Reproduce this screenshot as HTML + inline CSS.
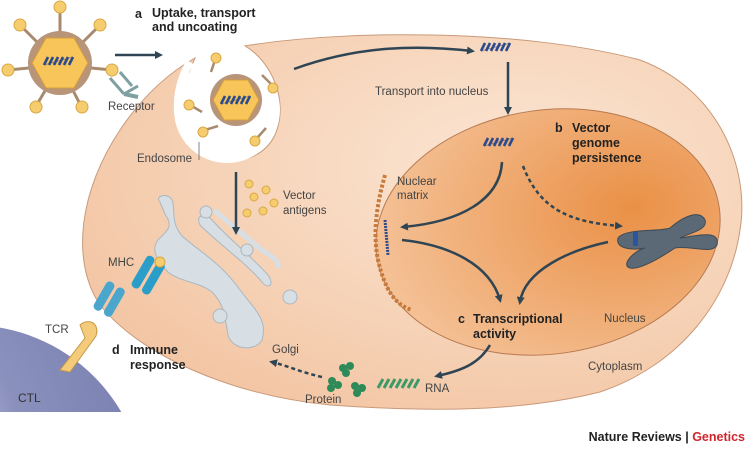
<!DOCTYPE html>
<html><head><meta charset="utf-8"><style>
html,body{margin:0;padding:0;background:#fff;width:750px;height:449px;overflow:hidden}
svg{display:block;overflow:hidden}
text{font-family:"Liberation Sans",sans-serif;fill:#333}
.b{font-weight:bold;font-size:12.5px;fill:#222}
.n{font-size:11.5px;fill:#444}
</style></head><body>
<svg width="750" height="449" viewBox="0 0 750 449" xmlns="http://www.w3.org/2000/svg">
<defs>
<radialGradient id="cell" cx="0.65" cy="0.35" r="0.8">
<stop offset="0" stop-color="#fbe6d4"/><stop offset="1" stop-color="#f2c3a0"/></radialGradient>
<radialGradient id="nuc" cx="0.75" cy="0.45" r="0.75">
<stop offset="0" stop-color="#ea9046"/><stop offset="1" stop-color="#f4c196"/></radialGradient>
<radialGradient id="ctl" cx="0.2" cy="0.35" r="0.8">
<stop offset="0" stop-color="#eef0f7"/><stop offset="0.55" stop-color="#8b91bd"/><stop offset="1" stop-color="#7a80b0"/></radialGradient>
<clipPath id="cl"><rect x="0" y="0" width="750" height="412"/></clipPath>
<marker id="ah" markerWidth="8" markerHeight="8" refX="5" refY="4" orient="auto" markerUnits="userSpaceOnUse"><path d="M0,0 L8,4 L0,8 z" fill="#2f4553"/></marker>
<g id="helix"><path d="M0,8 l4,-8 M5,8 l4,-8 M10,8 l4,-8 M15,8 l4,-8 M20,8 l4,-8 M25,8 l4,-8" fill="none" stroke="#2d4a8a" stroke-width="2.6"/><path d="M0,8 L29,0" stroke="#2d4a8a" stroke-width="0.8" opacity="0.6"/></g>
</defs>

<!-- CTL -->
<circle cx="-30" cy="500" r="175" fill="url(#ctl)" clip-path="url(#cl)"/>

<!-- cell -->
<path d="M245,46 C340,30 520,28 640,60 C720,90 750,170 740,230 C730,300 680,365 600,392 C520,412 430,412 330,405 C230,395 140,355 100,305 C70,260 80,190 120,130 C140,100 165,75 195,58 C185,80 180,100 185,120 C195,165 255,175 275,135 C290,100 270,60 245,46 Z" fill="url(#cell)" stroke="#c99a7a" stroke-width="1" clip-path="url(#cl)"/>
<circle cx="227" cy="110" r="53" fill="#fff"/>
<path d="M190,62 C180,80 177,95 178,112" fill="none" stroke="#fff" stroke-width="8"/>

<!-- nucleus -->
<ellipse cx="548" cy="232" rx="173" ry="122" transform="rotate(-8 548 232)" fill="url(#nuc)" stroke="#b87a50" stroke-width="1"/>

<!-- virus -->
<g stroke="#a88a70" stroke-width="3">
<line x1="60" y1="65" x2="60" y2="8"/><line x1="60" y1="65" x2="20" y2="25"/><line x1="60" y1="65" x2="100" y2="25"/>
<line x1="60" y1="65" x2="8" y2="70"/><line x1="60" y1="65" x2="112" y2="70"/><line x1="60" y1="65" x2="35" y2="108"/><line x1="60" y1="65" x2="82" y2="108"/>
</g>
<g fill="#f6cd6e" stroke="#d9a743" stroke-width="1">
<circle cx="60" cy="7" r="6"/><circle cx="20" cy="25" r="6"/><circle cx="100" cy="25" r="6"/><circle cx="8" cy="70" r="6"/><circle cx="112" cy="70" r="6"/><circle cx="36" cy="107" r="6"/><circle cx="82" cy="107" r="6"/>
</g>
<circle cx="60" cy="63" r="32" fill="#b89478"/>
<polygon points="46,38 74,38 88,63 74,88 46,88 32,63" fill="#f7c55a" stroke="#d49e3b"/>
<use href="#helix" x="44" y="57"/>
<!-- receptor -->
<path d="M110,78 l14,16 M120,72 l12,14 M124,94 l14,-8" stroke="#7fa0a0" stroke-width="3" fill="none"/>
<line x1="124" y1="94" x2="138" y2="97" stroke="#7fa0a0" stroke-width="4"/>
<text class="n" x="108" y="110">Receptor</text>

<!-- endosome virus -->
<circle cx="236" cy="100" r="26" fill="#b89478"/>
<polygon points="224,80 248,80 259,100 248,120 224,120 213,100" fill="#f7c55a" stroke="#d49e3b"/>
<use href="#helix" x="221" y="96"/>
<g stroke="#a88a70" stroke-width="2.5"><line x1="215" y1="60" x2="211" y2="72"/><line x1="262" y1="75" x2="272" y2="85"/><line x1="190" y1="105" x2="202" y2="112"/><line x1="205" y1="130" x2="218" y2="126"/><line x1="258" y1="137" x2="266" y2="128"/></g>
<g fill="#f6cd6e" stroke="#d9a743"><circle cx="216" cy="58" r="5"/><circle cx="273" cy="88" r="5"/><circle cx="189" cy="105" r="5"/><circle cx="203" cy="132" r="5"/><circle cx="255" cy="141" r="5"/></g>
<line x1="199" y1="142" x2="199" y2="160" stroke="#666" stroke-width="0.8"/>
<text class="n" x="137" y="162">Endosome</text>

<text class="b" x="135" y="18">a</text>
<text class="b" x="152" y="17">Uptake, transport</text>
<text class="b" x="152" y="31">and uncoating</text>
<line x1="115" y1="55" x2="160" y2="55" stroke="#2f4553" stroke-width="2.5" marker-end="url(#ah)"/>

<path d="M294,69 C360,45 420,45 472,51" fill="none" stroke="#2f4553" stroke-width="2.5" marker-end="url(#ah)"/>
<use href="#helix" x="481" y="43"/>
<text class="n" x="375" y="95">Transport into nucleus</text>
<line x1="508" y1="62" x2="508" y2="112" stroke="#2f4553" stroke-width="2.5" marker-end="url(#ah)"/>
<use href="#helix" x="484" y="138"/>
<text class="b" x="555" y="132">b</text>
<text class="b" x="572" y="132">Vector</text>
<text class="b" x="572" y="147">genome</text>
<text class="b" x="572" y="162">persistence</text>

<path d="M385,175 C378,200 372,230 378,260 C385,290 395,305 412,310" fill="none" stroke="#c77a3a" stroke-width="4" stroke-dasharray="3 2"/>
<line x1="385" y1="220" x2="388" y2="255" stroke="#2d4a8a" stroke-width="3" stroke-dasharray="2 1"/>
<text class="n" x="397" y="185">Nuclear</text>
<text class="n" x="397" y="199">matrix</text>

<path d="M502,162 C500,200 460,222 403,227" fill="none" stroke="#2f4553" stroke-width="2.5" marker-end="url(#ah)"/>
<path d="M523,166 C540,210 570,222 620,226" fill="none" stroke="#2f4553" stroke-width="2.5" stroke-dasharray="4 3" marker-end="url(#ah)"/>
<path d="M402,240 C450,245 490,265 500,300" fill="none" stroke="#2f4553" stroke-width="2.5" marker-end="url(#ah)"/>
<path d="M608,242 C570,250 525,270 520,302" fill="none" stroke="#2f4553" stroke-width="2.5" marker-end="url(#ah)"/>

<g fill="#5a6975" stroke="#3e4a55" stroke-width="1">
<path d="M618,238 C625,228 660,232 670,228 C685,215 700,210 705,220 C708,230 690,233 680,238 C700,235 720,230 717,245 C712,255 690,245 675,248 C660,258 640,270 630,268 C620,265 635,250 645,248 C635,250 615,250 618,238Z"/>
</g>
<rect x="633" y="232" width="5" height="14" fill="#2a55a0"/>

<text class="b" x="458" y="323">c</text>
<text class="b" x="473" y="323">Transcriptional</text>
<text class="b" x="473" y="338">activity</text>
<text class="n" x="604" y="322" fill="#6a4a30">Nucleus</text>
<text class="n" x="588" y="370">Cytoplasm</text>

<path d="M490,345 C480,362 465,370 437,376" fill="none" stroke="#2f4553" stroke-width="2.5" marker-end="url(#ah)"/>
<path d="M378,388 l5,-9 M384,388 l5,-9 M390,388 l5,-9 M396,388 l5,-9 M402,388 l5,-9 M408,388 l5,-9 M414,388 l5,-9" fill="none" stroke="#3c9a68" stroke-width="3"/>
<text class="n" x="425" y="392">RNA</text>
<g fill="#2e8a58"><circle cx="343" cy="368" r="4"/><circle cx="350" cy="366" r="4"/><circle cx="346" cy="373" r="4"/><circle cx="332" cy="381" r="4"/><circle cx="338" cy="385" r="4"/><circle cx="331" cy="388" r="4"/><circle cx="355" cy="386" r="4"/><circle cx="362" cy="388" r="4"/><circle cx="357" cy="393" r="4"/></g>
<text class="n" x="305" y="403">Protein</text>
<path d="M322,377 C300,372 285,365 272,362" fill="none" stroke="#2f4553" stroke-width="2.5" stroke-dasharray="4 3" marker-end="url(#ah)"/>

<!-- Golgi -->
<g fill="#d7dfe4" stroke="#a9b8c2" stroke-width="1">
<path d="M160,202 C154,196 168,192 172,200 C176,210 170,222 182,236 C200,252 220,262 240,290 C255,310 268,320 262,340 C255,352 232,350 228,335 C225,318 225,305 212,292 C200,282 180,282 168,272 C158,262 150,250 158,240 C165,232 175,228 165,214Z"/>
<path d="M200,225 C195,215 205,212 212,220 C230,240 250,255 268,275 C275,285 268,290 262,282 C245,262 220,245 200,225Z"/>
<path d="M214,210 C228,222 245,236 262,250 C270,256 280,260 278,268" fill="none" stroke="#d7dfe4" stroke-width="5"/>
<circle cx="206" cy="212" r="6"/><circle cx="247" cy="250" r="6"/><circle cx="290" cy="297" r="7"/><circle cx="220" cy="316" r="7"/>
</g>
<text class="n" x="272" y="353">Golgi</text>

<line x1="236" y1="172" x2="236" y2="232" stroke="#2f4553" stroke-width="2.5" marker-end="url(#ah)"/>
<g fill="#f6cd6e" stroke="#d9a743"><circle cx="249" cy="184" r="4"/><circle cx="266" cy="190" r="4"/><circle cx="254" cy="197" r="4"/><circle cx="274" cy="203" r="4"/><circle cx="247" cy="213" r="4"/><circle cx="263" cy="211" r="4"/></g>
<text class="n" x="283" y="199">Vector</text>
<text class="n" x="283" y="214">antigens</text>

<g transform="rotate(30 150 275)"><rect x="138" y="258" width="9" height="36" rx="4" fill="#2a9ec8"/><rect x="150" y="258" width="9" height="36" rx="4" fill="#2a9ec8"/></g>
<circle cx="160" cy="262" r="5" fill="#f6cd6e" stroke="#d9a743"/>
<text class="n" x="108" y="266">MHC</text>
<g transform="rotate(30 100 310)"><rect x="92" y="280" width="9" height="32" rx="4" fill="#4aa6cc"/><rect x="104" y="280" width="9" height="32" rx="4" fill="#4aa6cc"/></g>
<circle cx="92" cy="331" r="5" fill="#f6cd6e" stroke="#d9a743"/>
<path d="M80,325 C88,318 100,322 96,336 L70,372 L60,370 L85,338 Z" fill="#f3cb7a" stroke="#c79a43"/>
<text class="n" x="45" y="333">TCR</text>
<text x="18" y="402" font-size="12" fill="#333">CTL</text>
<text class="b" x="112" y="354" font-size="14">d</text>
<text class="b" x="130" y="354">Immune</text>
<text class="b" x="130" y="369">response</text>

<text x="745" y="441" text-anchor="end" font-size="12.5" font-weight="bold"><tspan fill="#222">Nature Reviews | </tspan><tspan fill="#d0262e">Genetics</tspan></text>
</svg>
</body></html>
